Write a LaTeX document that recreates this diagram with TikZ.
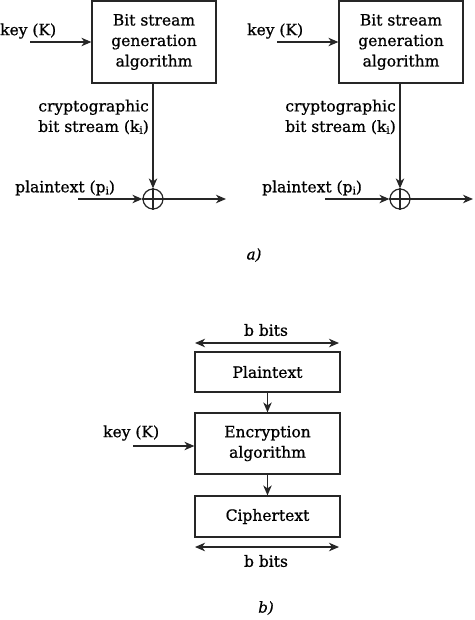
\documentclass[tikz,border=0pt]{standalone}
\usepackage{fontspec}
\setmainfont{DejaVu Serif}[FakeBold=0.8]
\usetikzlibrary{arrows.meta}
\begin{document}
\begin{tikzpicture}[x=1pt,y=-1pt,
  every node/.style={font=\fontsize{15.5}{20.5}\selectfont, text=black, inner sep=0pt},
  blk/.style={draw=black!85, line width=1.2pt, align=center},
  lbl/.style={align=center},
  conn/.style={draw=black!85, line width=1.2pt, -{Stealth[length=10pt,width=8.5pt,inset=3pt]}},
  dbl/.style={draw=black!85, line width=1.2pt, {Stealth[length=10pt,width=8.5pt,inset=3pt]}-{Stealth[length=10pt,width=8.5pt,inset=3pt]}},
  xorop/.style={draw=black!85, circle, line width=1.2pt, minimum size=20pt, inner sep=0pt}
]
\useasboundingbox (0,0) rectangle (474,620);
\newcommand{\subi}{\raisebox{-0.25ex}{\fontsize{10.5}{10}\selectfont i}}
% ---- panel a) ----
\foreach \s/\n in {0/L,247/R}{
  \node[blk, minimum width=124pt, minimum height=82pt] (box\n) at (154+\s,42) {Bit stream\\generation\\algorithm};
  \node[lbl, anchor=west] (key\n) at (0+\s,31) {key (K)};
  \coordinate (keyS\n) at (30+\s,42);
  \node[xorop] (x\n) at (153+\s,199) {};
  \draw[line width=1.2pt, black!85] (x\n.north) -- (x\n.south) (x\n.west) -- (x\n.east);
  \node[lbl, anchor=east, align=right] (cb\n) at (149+\s,117) {cryptographic\\bit stream (k\subi)};
  \node[lbl, anchor=west] (pt\n) at (15+\s,188) {plaintext (p\subi)};
  \coordinate (ptS\n) at (78+\s,199);
  \coordinate (out\n) at (226+\s,199);
  \draw[conn] (keyS\n) -- (keyS\n -| box\n.west);
  \draw[conn] (box\n.south -| x\n) -- (x\n.north);
  \draw[conn] (ptS\n) -- (x\n.west);
  \draw[conn] (x\n.east) -- (out\n);
}
\node[lbl, font=\fontsize{15}{20}\selectfont\itshape] (capa) at (254,255) {a)};
% ---- panel b) ----
\node[blk, minimum width=145pt, minimum height=40pt] (plain) at (267.5,372) {Plaintext};
\node[blk, minimum width=145pt, minimum height=61pt] (enc) at (267.5,443.5) {Encryption\\algorithm};
\node[blk, minimum width=145pt, minimum height=41pt] (ciph) at (267.5,516.5) {Ciphertext};
\coordinate (t1) at (195,343);
\coordinate (t2) at (339,343);
\coordinate (b1) at (195,547);
\coordinate (b2) at (339,547);
\draw[dbl] (t1) -- (t2);
\draw[dbl] (b1) -- (b2);
\node[lbl] (bt) at (266,330) {b bits};
\node[lbl] (bb) at (266,561) {b bits};
\draw[conn] (plain) -- (enc);
\draw[conn] (enc) -- (ciph);
\node[lbl, anchor=west] (keyb) at (103,433) {key (K)};
\coordinate (keybS) at (133,446);
\draw[conn] (keybS) -- (keybS -| enc.west);
\node[lbl, font=\fontsize{15}{20}\selectfont\itshape] (capb) at (266,608) {b)};
\end{tikzpicture}
\end{document}
